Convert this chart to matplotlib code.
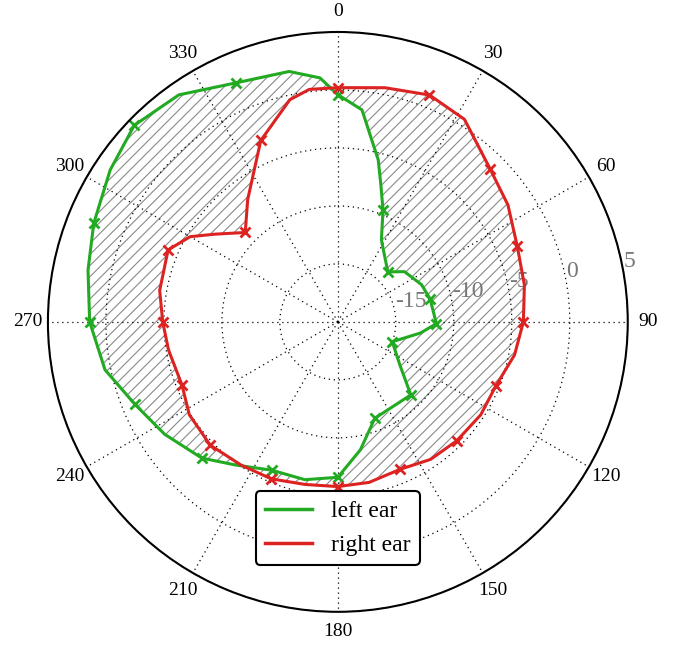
import numpy as np
import matplotlib
matplotlib.use('Agg')
import matplotlib.pyplot as plt
from matplotlib.path import Path
from matplotlib.patches import PathPatch
from matplotlib.lines import Line2D

plt.rcParams['font.family'] = ['Liberation Serif', 'DejaVu Serif']
plt.rcParams['hatch.linewidth'] = 0.8

# left ear (green): angle in deg, level in dB
left_ang = [0, 6.5, 14, 17.4, 22, 28, 45, 53, 66, 76, 91, 97.6, 110, 124.7, 135, 159, 170,
            180, 191.8, 204, 215.8, 225, 237, 248, 258.4, 270, 281.7, 292, 303.7, 314, 325,
            337, 349, 355.8, 360]
left_db = [-0.4, -1.6, -5.6, -7.6, -9.6, -12.0, -13.9, -12.8, -12.1, -11.8, -11.5, -12.8, -15.0,
           -13.5, -11.1, -11.1, -8.8, -6.6, -6.1, -6.0, -4.8, -3.4, -2.2, -1.1, 0.5, 1.4, 2.0,
           2.7, 3.6, 4.4, 3.9, 2.4, 2.0, 1.1, -0.4]
left_marks = [0, 22, 45, 76, 91, 110, 135, 159, 180, 204, 225, 248, 270, 292, 314, 337]

# right ear (red)
right_ang = [0, 11.4, 22, 32, 45, 55.5, 67, 78.8, 90, 100.6, 112, 123, 135, 146, 157, 169,
             180, 191.4, 203, 214, 226, 238, 248, 260.6, 270, 280, 293, 300, 305.6, 314,
             323.6, 331, 337, 347.8, 353, 360]
right_db = [0.2, 0.6, 1.1, 0.6, -1.4, -2.2, -3.2, -3.6, -4.0, -4.5, -5.3, -5.3, -5.5, -5.7,
            -6.2, -5.9, -5.8, -5.7, -5.3, -5.1, -4.7, -4.9, -5.5, -5.2, -4.9, -4.4, -4.1,
            -5.3, -7.0, -8.9, -6.9, -5.1, -3.0, -0.4, 0.2, 0.2]
right_marks = [0, 22, 45, 67, 90, 112, 135, 157, 180, 203, 226, 248, 270, 293, 314, 337]

rmin, rmax = -20, 5
green = '#22aa22'
red = '#dd2222'

fig = plt.figure(figsize=(6.75, 6.49), dpi=100)
ax = fig.add_axes([0.071, 0.057, 0.859, 0.894], projection='polar')
ax.set_theta_zero_location('N')
ax.set_theta_direction(-1)
ax.set_rlim(rmin, rmax)

lt = np.deg2rad(left_ang)
rt = np.deg2rad(right_ang)

# hatched area between the curves (nonzero rule, opposite orientation)
verts = list(zip(lt, left_db)) + list(zip(rt[::-1], right_db[::-1]))
codes = ([Path.MOVETO] + [Path.LINETO] * (len(lt) - 1)
         + [Path.MOVETO] + [Path.LINETO] * (len(rt) - 1))
path = Path(verts, codes)
path._interpolation_steps = 30
ax.add_patch(PathPatch(path, facecolor='none', edgecolor='#8a8a8a', hatch='///', lw=0))

lmark = [i for i, a in enumerate(left_ang) if a in left_marks]
rmark = [i for i, a in enumerate(right_ang) if a in right_marks]
ax.plot(lt, left_db, color=green, lw=2.2, marker='x', ms=7, mew=2, markevery=lmark)
ax.plot(rt, right_db, color=red, lw=2.2, marker='x', ms=7, mew=2, markevery=rmark)

ax.set_xticks(np.deg2rad(np.arange(0, 360, 30)))
ax.set_xticklabels([str(a) for a in range(0, 360, 30)], fontsize=14)
ax.tick_params(axis='x', pad=4)
ax.set_yticks([-15, -10, -5, 0, 5])
ax.set_yticklabels(['-15', '-10', '-5', '0', '5'], fontsize=17, color='#777777')
ax.set_rlabel_position(80)
ax.grid(True, color='black', linestyle=(0, (1, 3)), lw=0.9)
ax.spines['polar'].set_linewidth(1.5)

handles = [Line2D([], [], color=green, lw=2.5), Line2D([], [], color=red, lw=2.5)]
leg = ax.legend(handles, ['left ear', 'right ear'], loc='lower center',
                bbox_to_anchor=(0.5, 0.06), fontsize=17, fancybox=True,
                edgecolor='black', framealpha=1, handlelength=2.0)
leg.get_frame().set_linewidth(1.5)

fig.savefig('out.png', dpi=100)
